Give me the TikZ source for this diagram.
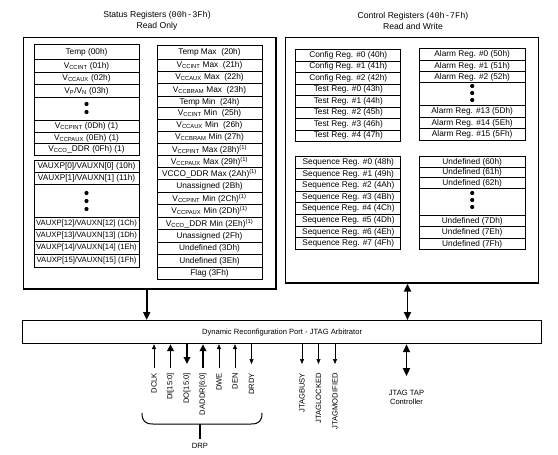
\documentclass[tikz,border=0pt]{standalone}
\usepackage{fontspec}
\setmainfont{Liberation Sans}
\setmonofont{Liberation Mono}
\usetikzlibrary{arrows.meta}
\newcommand{\vsub}[1]{\textsubscript{#1}}
\newcommand{\fn}{\textsuperscript{(1)}}
\begin{document}
\begin{tikzpicture}[x=1pt,y=-1pt,
  reg/.style={draw, line width=1pt, inner sep=0pt, anchor=north, font=\fontsize{8.3}{9}\selectfont},
  colA/.style={reg, minimum width=105pt},
  colB/.style={reg, minimum width=105pt},
  colC/.style={reg, minimum width=105pt},
  colD/.style={reg, minimum width=106pt},
  tight/.style={font=\fontsize{7.7}{9}\selectfont},
  panel/.style={draw, line width=1.3pt, inner sep=0pt, anchor=north west},
  title/.style={align=center, font=\fontsize{8.6}{11}\selectfont},
  sig/.style={rotate=90, anchor=east, inner sep=0pt, font=\fontsize{7.6}{9}\selectfont},
  thn/.style={line width=0.6pt},
  thk/.style={line width=1.8pt},
  tipthn/.tip={Triangle[length=5pt,width=4pt]},
  tipthk/.tip={Triangle[length=7pt,width=6.5pt]},
  dot/.style={fill=black}
]
\useasboundingbox (0,0) rectangle (558,455);
\fill[white] (0,0) rectangle (558,455);

% titles
\node[title] (sttitle) at (157,20.5) {Status Registers (\texttt{00h-3Fh})\\Read Only};
\node[title] (cttitle) at (413,20.5) {Control Registers (\texttt{40h-7Fh})\\Read and Write};

% outer panels
\node[panel, minimum width=252.5pt, minimum height=251.5pt] (statusbox) at (22.8,36.8) {};
\node[panel, minimum width=252.7pt, minimum height=245.3pt] (controlbox) at (285,37) {};

% column A, group 1
\node[colA, minimum height=15pt] (s00) at (86.5,44) {Temp (00h)};
\node[colA, minimum height=13pt] (s01) at (86.5,59) {V\vsub{CCINT} (01h)};
\node[colA, minimum height=12pt] (s02) at (86.5,72) {V\vsub{CCAUX} (02h)};
\node[colA, minimum height=13pt] (s03) at (86.5,84) {V\vsub{P}/V\vsub{N} (03h)};
\node[colA, minimum height=23pt] (sd1) at (86.5,97) {};
\node[colA, minimum height=12pt] (s0D) at (86.5,120) {V\vsub{CCPINT} (0Dh) (1)};
\node[colA, minimum height=11pt] (s0E) at (86.5,132) {V\vsub{CCPAUX} (0Eh) (1)};
\node[colA, minimum height=12pt] (s0F) at (86.5,143) {V\vsub{CCO}\_DDR (0Fh) (1)};
\fill[dot] (86.5,104) circle (2.1pt);
\fill[dot] (86.5,112) circle (2.1pt);

% column A, group 2
\node[colA, minimum height=12pt] (s10) at (86.5,160) {VAUXP[0]/VAUXN[0] (10h)};
\node[colA, minimum height=12pt] (s11) at (86.5,172) {VAUXP[1]/VAUXN[1] (11h)};
\node[colA, minimum height=33pt] (sd2) at (86.5,184) {};
\node[colA, tight, minimum height=12pt] (s1C) at (86.5,217) {VAUXP[12]/VAUXN[12] (1Ch)};
\node[colA, tight, minimum height=12pt] (s1D) at (86.5,229) {VAUXP[13]/VAUXN[13] (1Dh)};
\node[colA, tight, minimum height=13pt] (s1E) at (86.5,241) {VAUXP[14]/VAUXN[14] (1Eh)};
\node[colA, tight, minimum height=13pt] (s1F) at (86.5,254) {VAUXP[15]/VAUXN[15] (1Fh)};
\fill[dot] (86.5,193) circle (2.1pt);
\fill[dot] (86.5,201) circle (2.1pt);
\fill[dot] (86.5,209) circle (2.1pt);

% column B
\node[colB, minimum height=14pt] (s20) at (209.5,45) {Temp Max\ \ (20h)};
\node[colB, minimum height=12pt] (s21) at (209.5,59) {V\vsub{CCINT} Max\ \ (21h)};
\node[colB, minimum height=12pt] (s22) at (209.5,71) {V\vsub{CCAUX} Max\ \ (22h)};
\node[colB, minimum height=13pt] (s23) at (209.5,83) {V\vsub{CCBRAM} Max\ \ (23h)};
\node[colB, minimum height=11pt] (s24) at (209.5,96) {Temp Min\ \ (24h)};
\node[colB, minimum height=12pt] (s25) at (209.5,107) {V\vsub{CCINT} Min\ \ (25h)};
\node[colB, minimum height=12pt] (s26) at (209.5,119) {V\vsub{CCAUX} Min\ \ (26h)};
\node[colB, minimum height=12pt] (s27) at (209.5,131) {V\vsub{CCBRAM} Min (27h)};
\node[colB, minimum height=12pt] (s28) at (209.5,143) {V\vsub{CCPINT} Max (28h)\fn};
\node[colB, minimum height=12pt] (s29) at (209.5,155) {V\vsub{CCPAUX} Max (29h)\fn};
\node[colB, minimum height=12pt] (s2A) at (209.5,167) {VCCO\_DDR Max (2Ah)\fn};
\node[colB, minimum height=13pt] (s2B) at (209.5,179) {Unassigned (2Bh)};
\node[colB, minimum height=12pt] (s2C) at (209.5,192) {V\vsub{CCPINT} Min (2Ch)\fn};
\node[colB, minimum height=13pt] (s2D) at (209.5,204) {V\vsub{CCPAUX} Min (2Dh)\fn};
\node[colB, minimum height=12pt] (s2E) at (209.5,217) {V\vsub{CCO}\_DDR Min (2Eh)\fn};
\node[colB, minimum height=13pt] (s2F) at (209.5,229) {Unassigned (2Fh)};
\node[colB, minimum height=12pt] (s3D) at (209.5,242) {Undefined (3Dh)};
\node[colB, minimum height=13pt] (s3E) at (209.5,254) {Undefined (3Eh)};
\node[colB, minimum height=12pt] (s3F) at (209.5,267) {Flag (3Fh)};

% column C, group 1
\node[colC, minimum height=11.5pt] (c40) at (348.3,49) {Config Reg. \#0 (40h)};
\node[colC, minimum height=11.5pt] (c41) at (348.3,60.5) {Config Reg. \#1 (41h)};
\node[colC, minimum height=11.5pt] (c42) at (348.3,72) {Config Reg. \#2 (42h)};
\node[colC, minimum height=11.5pt] (c43) at (348.3,83.5) {Test Reg. \#0 (43h)};
\node[colC, minimum height=11.5pt] (c44) at (348.3,95) {Test Reg. \#1 (44h)};
\node[colC, minimum height=11.5pt] (c45) at (348.3,106.5) {Test Reg. \#2 (45h)};
\node[colC, minimum height=11.5pt] (c46) at (348.3,118) {Test Reg. \#3 (46h)};
\node[colC, minimum height=11.5pt] (c47) at (348.3,129.5) {Test Reg. \#4 (47h)};

% column D, group 1
\node[colD, minimum height=12pt] (c50) at (472.2,48) {Alarm Reg. \#0 (50h)};
\node[colD, minimum height=11pt] (c51) at (472.2,60) {Alarm Reg. \#1 (51h)};
\node[colD, minimum height=11pt] (c52) at (472.2,71) {Alarm Reg. \#2 (52h)};
\node[colD, minimum height=23pt] (cd1) at (472.2,82) {};
\node[colD, minimum height=12pt] (c5D) at (472.2,105) {Alarm Reg. \#13 (5Dh)};
\node[colD, minimum height=11pt] (c5E) at (472.2,117) {Alarm Reg. \#14 (5Eh)};
\node[colD, minimum height=12pt] (c5F) at (472.2,128) {Alarm Reg. \#15 (5Fh)};
\fill[dot] (472.2,86) circle (2.1pt);
\fill[dot] (472.2,93) circle (2.1pt);
\fill[dot] (472.2,100) circle (2.1pt);

% column C, group 2
\node[colC, minimum height=11.6pt] (c48) at (348.3,156) {Sequence Reg. \#0 (48h)};
\node[colC, minimum height=11.6pt] (c49) at (348.3,167.6) {Sequence Reg. \#1 (49h)};
\node[colC, minimum height=11.6pt] (c4A) at (348.3,179.2) {Sequence Reg. \#2 (4Ah)};
\node[colC, minimum height=11.6pt] (c4B) at (348.3,190.8) {Sequence Reg. \#3 (4Bh)};
\node[colC, minimum height=11.6pt] (c4C) at (348.3,202.4) {Sequence Reg. \#4 (4Ch)};
\node[colC, minimum height=11.6pt] (c4D) at (348.3,214) {Sequence Reg. \#5 (4Dh)};
\node[colC, minimum height=11.6pt] (c4E) at (348.3,225.6) {Sequence Reg. \#6 (4Eh)};
\node[colC, minimum height=11.6pt] (c4F) at (348.3,237.2) {Sequence Reg. \#7 (4Fh)};

% column D, group 2
\node[colD, minimum height=11pt] (c60) at (472.2,156) {Undefined (60h)};
\node[colD, minimum height=10pt] (c61) at (472.2,167) {Undefined (61h)};
\node[colD, minimum height=11pt] (c62) at (472.2,177) {Undefined (62h)};
\node[colD, minimum height=27pt] (cd2) at (472.2,188) {};
\node[colD, minimum height=11pt] (c7D) at (472.2,215) {Undefined (7Dh)};
\node[colD, minimum height=12pt] (c7E) at (472.2,226) {Undefined (7Eh)};
\node[colD, minimum height=11pt] (c7F) at (472.2,238) {Undefined (7Fh)};
\fill[dot] (472.2,193) circle (2.1pt);
\fill[dot] (472.2,200) circle (2.1pt);
\fill[dot] (472.2,207) circle (2.1pt);

% DRP / JTAG arbitrator bar
\node[panel, line width=1.2pt, minimum width=519pt, minimum height=23pt] (drp) at (22,320) {};
\node[font=\fontsize{7.6}{9}\selectfont, inner sep=0pt] (drptext) at (drp.center) {Dynamic Reconfiguration Port - JTAG Arbitrator};

% arrows from panels to bar
\draw[thk, -{Triangle[length=8pt,width=7pt]}] ([xshift=-3pt]statusbox.south) -- ([xshift=-3pt]statusbox.south |- drp.north);
\draw[thk, {Triangle[length=8pt,width=7pt]}-{Triangle[length=8pt,width=7pt]}] ([xshift=-4.5pt]controlbox.south) -- ([xshift=-4.5pt]controlbox.south |- drp.north);

% signal labels
\node[sig] (lDCLK) at (154,373) {DCLK};
\node[sig] (lDI) at (170.5,373) {DI[15:0]};
\node[sig] (lDO) at (187,373) {DO[15:0]};
\node[sig] (lDADDR) at (203,373) {DADDR[6:0]};
\node[sig] (lDWE) at (219,373) {DWE};
\node[sig] (lDEN) at (235,373) {DEN};
\node[sig] (lDRDY) at (251.5,373) {DRDY};
\node[sig] (lBUSY) at (302,373) {JTAGBUSY};
\node[sig] (lLOCK) at (318.5,373) {JTAGLOCKED};
\node[sig] (lMOD) at (335,373) {JTAGMODIFIED};

% signal arrows
\draw[thn, -tipthn] ([yshift=5pt]lDCLK.east) -- (lDCLK.east |- drp.south);
\draw[thk, -tipthk] ([yshift=5pt]lDI.east) -- (lDI.east |- drp.south);
\draw[thk, -tipthk] (lDO.east |- drp.south) -- ([yshift=9pt]lDO.east);
\draw[thk, -tipthk] ([yshift=5pt]lDADDR.east) -- (lDADDR.east |- drp.south);
\draw[thn, -tipthn] ([yshift=5pt]lDWE.east) -- (lDWE.east |- drp.south);
\draw[thn, -tipthn] ([yshift=5pt]lDEN.east) -- (lDEN.east |- drp.south);
\draw[thn, -tipthn] (lDRDY.east |- drp.south) -- ([yshift=9pt]lDRDY.east);
\draw[thn, -tipthn] (lBUSY.east |- drp.south) -- ([yshift=9pt]lBUSY.east);
\draw[thn, -tipthn] (lLOCK.east |- drp.south) -- ([yshift=9pt]lLOCK.east);
\draw[thn, -tipthn] (lMOD.east |- drp.south) -- ([yshift=9pt]lMOD.east);

% JTAG TAP controller
\node[align=center, inner sep=0pt, font=\fontsize{7.6}{9}\selectfont] (tap) at (406.5,397.5) {JTAG TAP\\Controller};
\draw[thk, {Triangle[length=8pt,width=7pt]}-{Triangle[length=8pt,width=7pt]}] (tap.north |- drp.south) -- ([yshift=14pt]tap.north);

% DRP brace
\node[inner sep=0pt, font=\fontsize{7.6}{9}\selectfont] (drplabel) at (200,446) {DRP};
\coordinate (bracemid) at (200,424);
\draw[line width=1pt] (142,413) .. controls (142,421) and (145,424) .. (153,424) -- (251,424) .. controls (259,424) and (262,421) .. (262,413);
\draw[line width=1.5pt] (bracemid) -- ([yshift=4pt]drplabel.north);
\end{tikzpicture}
\end{document}
